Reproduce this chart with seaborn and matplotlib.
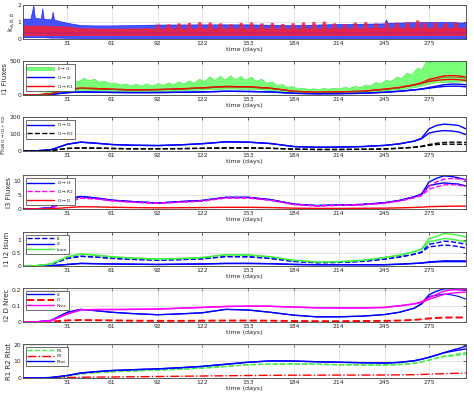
import seaborn as sns
import matplotlib.pyplot as plt
import numpy as np
import pandas as pd

sns.set_style("white")
plt.rcParams['font.family'] = ['DejaVu Sans']

# common day grid for the smooth curves
days = [1, 10, 20, 31, 40, 50, 61, 75, 92, 107, 122, 138, 153, 168, 184, 199,
        214, 230, 245, 255, 265, 270, 275, 280, 285, 290, 295, 300]
xticks = [31, 61, 92, 122, 153, 184, 214, 245, 275]

# panel 1 - bands
k_days = [1, 6, 7, 8, 9, 13, 14, 15, 20, 21, 22, 26, 31, 40, 50, 61, 92, 122,
          153, 184, 214, 245, 246, 247, 260, 275, 290, 300]
k_blue_hi = [1.2, 1.2, 1.6, 2.0, 1.25, 1.2, 1.8, 1.2, 1.15, 1.6, 1.15, 1.05, 0.95,
             0.82, 0.8, 0.8, 0.85, 0.86, 0.86, 0.82, 0.88, 0.92, 1.15, 0.95,
             0.98, 1.0, 1.0, 0.95]
k_blue_lo = [0.1, 0.1, 0.1, 0.1, 0.1, 0.1, 0.1, 0.1, 0.08, 0.08, 0.08, 0.08, 0.06,
             0.05, 0.05, 0.05, 0.05, 0.05, 0.05, 0.05, 0.05, 0.05, 0.05, 0.05,
             0.05, 0.05, 0.05, 0.05]
red_base_days = [1, 20, 31, 40, 61, 92, 153, 214, 245, 275, 300]
red_base_hi = [0.82, 0.8, 0.75, 0.66, 0.63, 0.65, 0.65, 0.65, 0.68, 0.7, 0.68]
red_spike_days = [92, 99, 106, 113, 120, 127, 134, 141, 148, 155, 162, 169, 176,
                  183, 190, 197, 204, 211, 218, 225, 232, 239, 246, 253, 260, 267,
                  272, 279, 286, 293]
red_spike_vals = [1.0, 0.9, 0.95, 0.98, 1.02, 1.0, 0.95, 0.9, 0.98, 1.0, 0.95, 0.98,
                  0.92, 0.96, 1.0, 1.03, 1.05, 0.95, 0.9, 1.0, 1.02, 0.95, 0.98, 1.0,
                  1.02, 1.12, 1.0, 1.02, 0.98, 1.0]

# panel 2 - I1 fluxes
g_jag_days = [1, 10, 15, 20, 24, 28, 31, 35, 38, 42, 45, 49, 52, 56, 60, 63, 67, 70,
              74, 77, 81, 84, 88, 92, 95, 99, 102, 106, 109, 113, 116, 120, 123, 127,
              130, 134, 137, 141, 144, 148, 151, 155, 158, 162, 165, 169, 172, 176,
              179, 183, 186, 190, 193, 197, 200, 204, 207, 211, 214, 218, 221, 225,
              228, 232, 235, 239, 242, 246, 249, 253, 256, 260, 263, 267, 270, 273,
              276, 280, 300]
g_jag_hi = [0, 5, 30, 90, 110, 170, 160, 230, 200, 255, 215, 240, 195, 210, 170, 185,
            150, 170, 140, 165, 135, 170, 140, 175, 150, 185, 155, 200, 165, 215, 180,
            240, 200, 275, 220, 285, 225, 290, 230, 280, 225, 270, 210, 240, 180, 200,
            150, 160, 120, 130, 95, 110, 85, 100, 85, 105, 90, 110, 95, 120, 105, 135,
            115, 155, 140, 190, 170, 225, 200, 270, 250, 330, 300, 400, 380, 500, 480,
            560, 560]
g_lo = [0, 0, 10, 60, 80, 70, 60, 55, 60, 65, 80, 95, 90, 75, 35, 28, 30, 40, 65,
        85, 115, 140, 170, 190, 210, 215, 210, 200]
r1_a = [0, 0, 20, 85, 100, 95, 85, 75, 80, 90, 105, 125, 120, 100, 55, 40, 45, 55,
        85, 110, 150, 180, 230, 255, 280, 285, 280, 265]
r1_b = r1_a[:21] + [170, 200, 215, 225, 230, 225, 215]
i2_a = [0, 0, 10, 35, 45, 42, 38, 35, 36, 40, 45, 55, 52, 45, 25, 18, 20, 25, 40,
        55, 75, 90, 110, 130, 150, 160, 160, 150]
i2_b = i2_a[:21] + [85, 100, 115, 125, 130, 130, 120]

# panel 3
f_a = [0, 1, 8, 40, 52, 46, 38, 34, 32, 36, 43, 54, 52, 44, 26, 22, 23, 26, 33, 42,
       58, 75, 130, 150, 158, 155, 150, 130]
f_b = f_a[:21] + [72, 105, 115, 120, 118, 112, 97]
r2f_a = [0, 0, 3, 15, 18, 17, 15, 13, 13, 14, 16, 18, 18, 16, 11, 9, 9, 10, 12, 16,
         22, 28, 38, 45, 50, 52, 52, 50]
r2f_b = r2f_a[:21] + [26, 33, 38, 40, 40, 40, 38]

# panel 4
i3_a = [0, 0.05, 0.5, 3.5, 4.4, 3.9, 3.1, 2.6, 2.1, 2.6, 3.0, 4.1, 4.1, 3.3, 1.7,
        1.2, 1.4, 1.6, 2.2, 3.0, 4.3, 5.3, 9.5, 10.8, 11.7, 11.5, 11.0, 10.2]
i3_b = i3_a[:21] + [5.1, 8.2, 8.8, 9.2, 9.0, 8.8, 8.1]
i2r2_a = [0, 0.02, 0.3, 2.5, 3.8, 3.6, 2.9, 2.4, 2.0, 2.4, 2.8, 3.9, 3.9, 3.1, 1.6,
          1.1, 1.3, 1.5, 2.0, 2.8, 4.0, 4.9, 8.0, 9.5, 10.5, 10.8, 10.6, 10.4]
i2r2_b = i2r2_a[:21] + [4.7, 7.0, 7.8, 8.5, 8.6, 8.4, 8.0]
i3d = [0, 0, 0.05, 0.5, 0.8, 0.75, 0.6, 0.5, 0.4, 0.45, 0.5, 0.6, 0.6, 0.5, 0.3,
       0.2, 0.2, 0.25, 0.3, 0.4, 0.55, 0.65, 0.8, 0.9, 0.95, 1.0, 1.0, 1.0]

# panel 5
isum_a = [0, 0.01, 0.08, 0.36, 0.47, 0.42, 0.36, 0.31, 0.27, 0.29, 0.33, 0.44, 0.43,
          0.36, 0.22, 0.16, 0.17, 0.22, 0.33, 0.42, 0.56, 0.67, 1.07, 1.15, 1.27,
          1.25, 1.2, 1.13]
isum_b = isum_a[:21] + [0.65, 0.95, 1.0, 1.08, 1.05, 1.0, 0.93]
i1_a = [0, 0.01, 0.06, 0.3, 0.38, 0.35, 0.3, 0.26, 0.23, 0.25, 0.28, 0.37, 0.36, 0.3,
        0.18, 0.13, 0.14, 0.18, 0.27, 0.35, 0.46, 0.55, 0.85, 0.9, 0.97, 0.95, 0.9,
        0.85]
i1_b = i1_a[:21] + [0.53, 0.75, 0.78, 0.82, 0.8, 0.76, 0.7]
i2s_a = [0, 0, 0.01, 0.06, 0.1, 0.09, 0.08, 0.07, 0.06, 0.07, 0.08, 0.1, 0.1, 0.09,
         0.06, 0.05, 0.05, 0.05, 0.05, 0.07, 0.1, 0.12, 0.16, 0.18, 0.2, 0.2, 0.2,
         0.2]
i2s_b = i2s_a[:21] + [0.11, 0.14, 0.16, 0.17, 0.17, 0.17, 0.17]

# panel 6
n2_a = [0, 0.001, 0.01, 0.06, 0.078, 0.07, 0.06, 0.052, 0.045, 0.05, 0.057, 0.078,
        0.074, 0.06, 0.042, 0.032, 0.032, 0.036, 0.046, 0.06, 0.085, 0.115, 0.168,
        0.19, 0.205, 0.205, 0.2, 0.196]
n2_b = n2_a[:21] + [0.11, 0.158, 0.165, 0.172, 0.168, 0.158, 0.141]
nrec_a = [0, 0.001, 0.008, 0.05, 0.075, 0.077, 0.077, 0.078, 0.08, 0.085, 0.09,
          0.096, 0.098, 0.097, 0.092, 0.088, 0.087, 0.087, 0.09, 0.1, 0.112, 0.125,
          0.15, 0.17, 0.19, 0.198, 0.2, 0.2]
nrec_b = nrec_a[:21] + [0.12, 0.14, 0.155, 0.17, 0.178, 0.182, 0.185]
nd = [0, 0, 0.002, 0.01, 0.012, 0.011, 0.01, 0.008, 0.007, 0.007, 0.008, 0.009,
      0.009, 0.008, 0.006, 0.005, 0.005, 0.006, 0.007, 0.009, 0.013, 0.017, 0.022,
      0.025, 0.027, 0.028, 0.028, 0.028]

# panel 7
rtot_a = [0, 0, 0.3, 1.5, 3.0, 3.8, 4.5, 5.0, 5.5, 6.2, 7.0, 8.3, 9.5, 10.3, 10.2,
          9.8, 9.5, 9.2, 9.0, 9.4, 10.4, 11.3, 12.5, 13.8, 15.2, 16.6, 17.8, 19.2]
rtot_b = rtot_a[:25] + [16.0, 16.8, 17.5]
r1c_a = [0, 0, 0.2, 1.2, 2.5, 3.2, 3.8, 4.3, 4.8, 5.3, 6.0, 7.0, 8.0, 8.4, 8.5, 8.3,
         8.0, 7.8, 7.8, 8.1, 8.9, 9.7, 10.8, 11.9, 13.0, 13.8, 14.6, 15.3]
r1c_b = r1c_a[:25] + [13.2, 13.8, 14.3]
r2c = [0, 0, 0.05, 0.3, 0.45, 0.55, 0.6, 0.75, 0.9, 1.05, 1.2, 1.35, 1.5, 1.6, 1.7,
       1.72, 1.75, 1.78, 1.8, 1.9, 2.0, 2.15, 2.3, 2.45, 2.6, 2.75, 2.85, 3.0]

BLUE = (0.0, 0.0, 1.0)
RED = (1.0, 0.0, 0.0)
GREEN = (0.25, 0.95, 0.25)
MAG = (1.0, 0.0, 1.0)

fig = plt.figure(figsize=(4.74, 3.97), dpi=100)
tops = [5, 61, 117, 175, 232, 288, 344]
axes = []
for t in tops:
    ax = fig.add_axes([23 / 474, 1 - (t + 34) / 397, 443 / 474, 34 / 397])
    axes.append(ax)


def line(ax, y, color, ls='-', lw=1.0, label=None):
    sns.lineplot(x=days, y=y, ax=ax, color=color, linestyle=ls, linewidth=lw,
                 label=label, legend=False)


def style(ax, ylim, yticks, ylabel, lfs=5):
    ax.set_xlim(1, 300)
    ax.set_ylim(*ylim)
    ax.set_xticks(xticks)
    ax.set_yticks(yticks)
    ax.set_yticklabels([('%g' % v) for v in yticks])
    ax.tick_params(direction='in', length=2, labelsize=4.3, pad=1.5, width=0.5,
                   top=True, right=True, colors='0.15')
    ax.grid(True, color='0.85', linewidth=0.5)
    ax.set_axisbelow(True)
    for s in ax.spines.values():
        s.set_color('0.25')
        s.set_linewidth(0.6)
    ax.set_xlabel('time (days)', fontsize=4.6, labelpad=1, color='0.15')
    ax.set_ylabel(ylabel, fontsize=lfs, labelpad=1, color='0.15')


def legend(ax):
    ax.legend(loc='upper left', fontsize=3.2, frameon=True, fancybox=False,
              edgecolor='0.2', framealpha=1, handlelength=6, borderpad=0.4,
              labelspacing=0.35, handletextpad=0.6, borderaxespad=0.6).get_frame().set_linewidth(0.5)


# panel 1
ax = axes[0]
ax.fill_between(k_days, k_blue_lo, k_blue_hi, color=(0.2, 0.25, 1.0), alpha=0.9,
                linewidth=0.4, edgecolor=BLUE)
rd, rh = list(red_base_days), list(red_base_hi)
for d, v in zip(red_spike_days, red_spike_vals):
    b = np.interp(d, red_base_days, red_base_hi)
    rd += [d - 1.6, d - 1.0, d + 1.0, d + 1.6]
    rh += [b, v, v, b]
order = np.argsort(rd, kind='stable')
rd = np.array(rd)[order]
rh = np.array(rh)[order]
ax.fill_between(rd, 0.2, rh, color=(1.0, 0.12, 0.18), alpha=0.85, linewidth=0)
ax.fill_between(days, 0.3, 0.42, color=(0.6, 0.1, 0.55), alpha=0.35, linewidth=0)
style(ax, (0, 2), [0, 1, 2], r'k$_{a,b,b}$')

# panel 2
ax = axes[1]
ax.fill_between(g_jag_days, np.interp(g_jag_days, days, g_lo), g_jag_hi,
                color=(0.45, 1.0, 0.45), alpha=0.95, linewidth=0.4,
                edgecolor=(0.2, 0.9, 0.2), label=r'E$\rightarrow$I1')
line(ax, i2_a, BLUE, label=r'I1$\rightarrow$I2')
line(ax, i2_b, BLUE)
line(ax, r1_a, RED, label=r'I1$\rightarrow$R1')
line(ax, r1_b, RED)
line(ax, [x * 0.93 for x in r1_a], (0.5, 0.35, 0.1), lw=0.5)
style(ax, (0, 500), [0, 500], 'I1 Fluxes')
legend(ax)

# panel 3
ax = axes[2]
line(ax, f_a, BLUE, label=r'I1$\rightarrow$I2')
line(ax, f_b, BLUE)
line(ax, r2f_a, 'k', ls='--', label=r'I1$\rightarrow$R2')
line(ax, r2f_b, 'k', ls='--')
style(ax, (0, 200), [0, 100, 200], r'Flux$_{I1\rightarrow(I2+R2)}$', lfs=4.3)
legend(ax)

# panel 4
ax = axes[3]
line(ax, i3_a, BLUE, label=r'I2$\rightarrow$I3')
line(ax, i3_b, BLUE)
line(ax, i2r2_a, MAG, ls='--', label=r'I2$\rightarrow$R2')
line(ax, i2r2_b, MAG, ls='--')
line(ax, i3d, RED, label=r'I3$\rightarrow$D')
style(ax, (0, 12), [0, 5, 10], 'I3 Fluxes')
legend(ax)

# panel 5
ax = axes[4]
line(ax, i1_a, BLUE, ls='--', label='I1')
line(ax, i1_b, BLUE, ls='--')
line(ax, i2s_a, BLUE, label='I2')
line(ax, i2s_b, BLUE)
line(ax, isum_a, GREEN, label='Isum')
line(ax, isum_b, GREEN)
style(ax, (0, 1.33), [0, 0.5, 1], 'I1 I2 Isum')
legend(ax)

# panel 6
ax = axes[5]
line(ax, n2_a, BLUE, label='I2')
line(ax, n2_b, BLUE, lw=0.8)
line(ax, nd, RED, ls='--', lw=1.4, label='D')
line(ax, nrec_a, MAG, label='Nrec')
line(ax, nrec_b, MAG)
style(ax, (0, 0.21), [0, 0.1, 0.2], 'I2 D Nrec')
legend(ax)

# panel 7
ax = axes[6]
line(ax, r1c_a, GREEN, ls='--', label='R1')
line(ax, r1c_b, GREEN, ls='--')
line(ax, r2c, RED, ls='-.', label='R2')
line(ax, rtot_a, BLUE, label='Rtot')
line(ax, rtot_b, BLUE)
style(ax, (0, 20.5), [0, 10, 20], 'R1 R2 Rtot')
legend(ax)

fig.savefig('out.png', dpi=100)
